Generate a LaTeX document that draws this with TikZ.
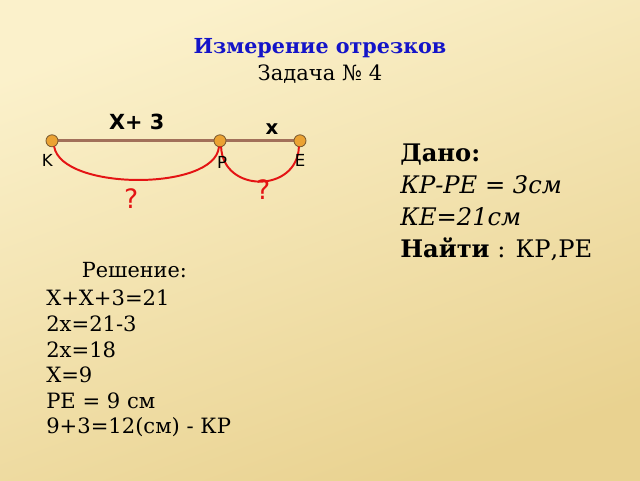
\documentclass[tikz,border=0pt]{standalone}
\usepackage{fontspec}
\setmainfont{DejaVu Serif}
\setsansfont{DejaVu Sans}
\usetikzlibrary{positioning}
\definecolor{bgtop}{HTML}{FBF1CB}
\definecolor{bgbot}{HTML}{E9D290}
\definecolor{seg}{HTML}{A2705A}
\definecolor{dotfill}{HTML}{EBA233}
\definecolor{dotline}{HTML}{7A5A30}
\definecolor{ttl}{HTML}{1414C8}
\definecolor{arcred}{HTML}{E41414}
\tikzset{
  pnt/.style={circle, fill=dotfill, draw=dotline, line width=0.6pt, minimum size=0.3cm, inner sep=0pt},
  arcline/.style={draw=arcred, line width=1.4pt},
  lbl/.style={font=\sffamily\fontsize{11.8}{13}\selectfont, inner sep=0pt},
  qmark/.style={font=\sffamily\fontsize{19}{20}\selectfont, text=arcred, inner sep=0pt}
}
\begin{document}
\begin{tikzpicture}[line join=round, line cap=round]
	\useasboundingbox (0,0) rectangle (16,12);
	\shade[top color=bgtop, bottom color=bgbot, shading angle=20] (0,0) rectangle (16,12);
	% title
	\node[font=\bfseries\fontsize{14.7}{17}\selectfont, text=ttl] (title) at (8,10.8) {Измерение отрезков};
	\node[font=\fontsize{15}{17}\selectfont] (task) at (8,10.15) {Задача № 4};
	% segment
	\coordinate (k) at (1.3,8.48);
	\coordinate (p) at (5.5,8.48);
	\coordinate (e) at (7.5,8.48);
	\draw[seg, line width=2.2pt] (k)--(p)--(e);
	\node[pnt] (K) at (k) {};
	\node[pnt] (P) at (p) {};
	\node[pnt] (E) at (e) {};
	\draw[arcline] (K.-70) .. controls +(0.2,-1.1) and +(-0.1,-1.1) .. (P.-100);
	\draw[arcline] (P.-80) .. controls +(0.05,-1.15) and +(-0.05,-1.15) .. (E.-100);
	\node[font=\sffamily\bfseries\fontsize{14.8}{16}\selectfont] (lenKP) at (3.42,8.95) {X+ 3};
	\node[font=\sffamily\bfseries\fontsize{14}{16}\selectfont] (lenPE) at (6.8,8.78) {x};
	\node[lbl] (nK) at (1.18,8.0) {K};
	\node[lbl] (nP) at (5.55,7.95) {P};
	\node[lbl] (nE) at (7.5,8.0) {E};
	\node[qmark] (q1) at (3.28,7.03) {?};
	\node[qmark] (q2) at (6.58,7.25) {?};
	% given
	\node[anchor=north west, align=left, inner sep=0pt, font=\fontsize{17.2}{22.6}\selectfont] (given) at (10.0,8.4)
		{\textbf{Дано:}\\ \textit{КР-РЕ = 3см}\\ \textit{КЕ=21см}\\ \textbf{Найти} : КР,РЕ};
	% solution
	\node[anchor=north west, inner sep=0pt, font=\fontsize{14.8}{18}\selectfont] (solhead) at (2.04,5.45) {Решение:};
	\node[anchor=north west, align=left, inner sep=0pt, font=\fontsize{15}{18.2}\selectfont] (sol) at (1.15,4.75)
		{X+X+3=21\\ 2x=21-3\\ 2x=18\\ X=9\\ PE = 9 см\\ 9+3=12(см) - КР};
\end{tikzpicture}
\end{document}
